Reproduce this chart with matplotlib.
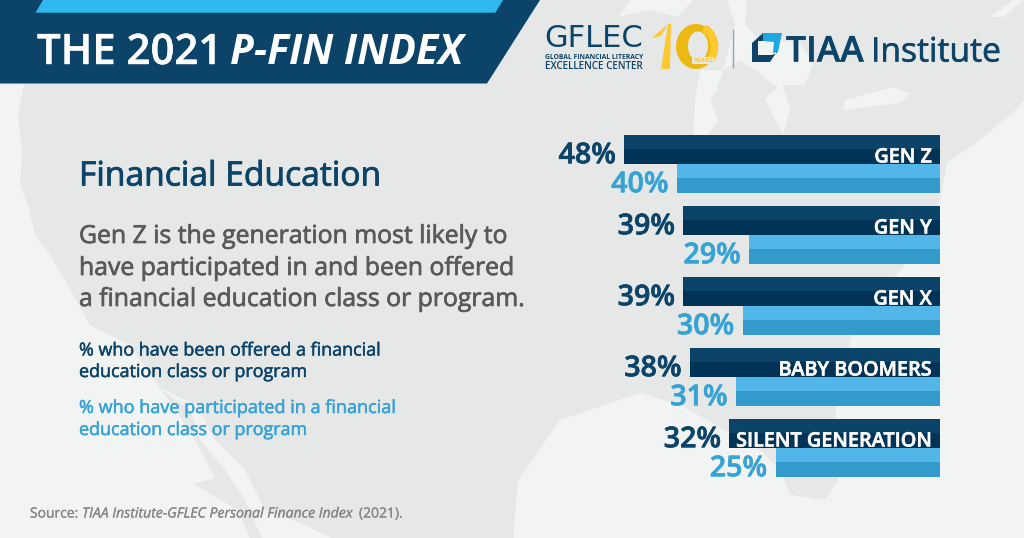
"""P-Fin Index 2021 infographic: financial education by generation."""

from __future__ import annotations

import matplotlib

matplotlib.use("Agg")

import matplotlib.patheffects as pe
import matplotlib.pyplot as plt
from matplotlib.patches import Arc, Ellipse, Polygon

GENERATIONS = ["GEN Z", "GEN Y", "GEN X", "BABY BOOMERS", "SILENT GENERATION"]
OFFERED = [48, 39, 39, 38, 32]
PARTICIPATED = [40, 29, 30, 31, 25]

NAVY = "#0b4468"
NAVY_DARK = "#013357"
SKY = "#52b6e8"
SKY_DARK = "#339bcb"
LABEL_SKY = "#36a3d6"
STRIP = "#2fb8ef"
LAND = "#e6e7e7"
SEA = "#f2f3f3"
GOLD = "#ecb914"
GOLD_LIGHT = "#fdc830"
GREY_TEXT = "#58595b"
SOURCE_TEXT = "#85878a"

W, H = 1024, 538
FONT = "Open Sans"

# rough outline of the map behind everything, in image pixels
MAINLAND = [
    (25, 80), (18, 115), (22, 150), (20, 185), (28, 205), (35, 235), (50, 255),
    (65, 280), (90, 325), (130, 345), (160, 388), (197, 405), (215, 440),
    (245, 470), (265, 510), (300, 523), (332, 538), (514, 538), (514, 526),
    (518, 480), (560, 420), (640, 393), (680, 405), (760, 450), (780, 470),
    (790, 495), (825, 500), (838, 480), (835, 390), (853, 333), (910, 257),
    (940, 200), (947, 163), (980, 140), (1024, 103), (1024, 0), (0, 0), (0, 80),
]
BAJA = [
    (160, 388), (190, 410), (200, 440), (225, 470), (245, 500), (262, 538),
    (250, 538), (238, 510), (193, 484), (215, 478), (195, 440), (172, 405),
]
LAKES = [
    [(630, 0), (618, 17), (650, 10), (677, 17), (693, 0)],
    [(693, 135), (708, 135), (718, 120), (710, 100), (717, 90), (723, 70),
     (700, 70), (695, 100)],
    [(727, 0), (747, 0), (745, 25), (757, 37), (800, 43), (813, 63), (805, 85),
     (783, 85), (790, 110), (783, 135), (770, 110), (765, 98), (778, 88),
     (755, 70), (740, 60), (723, 70), (735, 25)],
    [(845, 100), (893, 87), (910, 93), (900, 103), (867, 107), (843, 110)],
    [(990, 17), (1013, 0), (1024, 0), (1003, 17)],
    [(1007, 120), (1024, 100), (1024, 135), (1010, 130)],
]

HEADER = [(0, 0), (540, 0), (487, 83.5), (0, 83.5)]
HEADER_STRIP = [(43, 0), (35.5, 12.7), (495.5, 12.7), (503, 0)]
TIAA_DARK = [
    (752, 62), (752, 43), (763, 33), (768, 33), (765, 41), (758, 41), (758, 55),
    (772, 55), (777, 53), (778, 50), (770, 62),
]
TIAA_BLUE = [(763, 33), (782, 33), (778, 52), (773, 53), (774, 42), (763, 41)]
ONE_FLAG = [(652, 38), (668, 24), (661, 36)]
ONE_STEM = [(668, 24), (671, 24), (670, 69), (661, 69)]

# bar geometry, image pixels
BAR_RIGHT = 940
PX_PER_PCT = 6.58
BAR_TOP = 134.5
ROW_PITCH = 71
ROW_HEIGHT = 58
X_MAX = 50


def fatten(text, width, color):
    # the font only ships a few weights, thicken it a little
    text.set_path_effects([pe.withStroke(linewidth=width, foreground=color)])
    return text


def put(ax, x, y, s, size, color, weight="normal", style="normal", family=FONT, heavy=0.0):
    t = ax.text(x, y, s, fontsize=size, color=color, fontweight=weight,
                fontstyle=style, ha="left", va="baseline", family=family)
    return fatten(t, heavy, color) if heavy else t


def draw_backdrop(bg) -> None:
    bg.add_patch(Polygon(MAINLAND, fc=LAND, ec="none"))
    bg.add_patch(Polygon(BAJA, fc=LAND, ec="none"))
    for lake in LAKES:
        bg.add_patch(Polygon(lake, fc=SEA, ec="none"))


def draw_header(bg) -> None:
    bg.add_patch(Polygon(HEADER, fc=NAVY, ec="none"))
    bg.add_patch(Polygon(HEADER_STRIP, fc=STRIP, ec="none"))
    put(bg, 37, 64, "THE 2021", 30.2, "white", "semibold", heavy=0.3)
    put(bg, 230, 64, "P-FIN INDEX", 29.6, "white", "bold", "italic")


def draw_logos(bg) -> None:
    put(bg, 544, 46.7, "GFLEC", 22, NAVY, family="DejaVu Sans")
    put(bg, 545, 59, "GLOBAL FINANCIAL LITERACY", 4.9, NAVY, "bold")
    put(bg, 545, 69, "EXCELLENCE CENTER", 7.15, NAVY, "semibold")

    bg.add_patch(Polygon(ONE_FLAG, fc=GOLD_LIGHT, ec="none"))
    bg.add_patch(Polygon(ONE_STEM, fc=GOLD_LIGHT, ec="none"))
    bg.add_patch(Ellipse((696, 46.5), 40, 45, fc=GOLD, ec="none"))
    bg.add_patch(Ellipse((698, 46), 20, 29, fc=LAND, ec="none"))
    bg.add_patch(Arc((697.5, 46.5), 34, 40, theta1=-70, theta2=45, lw=5.5, color=GOLD_LIGHT))
    t = put(bg, 693, 62, "YEARS", 4.6, GOLD_LIGHT, "bold")
    t.set_bbox(dict(fc=LAND, ec="none", pad=0.6))

    bg.plot([733, 733], [30, 67], color="#8ea5b5", lw=1)
    bg.add_patch(Polygon(TIAA_DARK, fc=NAVY, ec="none"))
    bg.add_patch(Polygon(TIAA_BLUE, fc="#1ea7e1", ec="none"))
    put(bg, 786, 61.5, "TIAA", 25.5, NAVY, "semibold", heavy=0.3)
    put(bg, 871, 61.5, "Institute", 24.2, NAVY, heavy=0.4)


def draw_copy(bg) -> None:
    put(bg, 79, 185.5, "Financial Education", 24.2, NAVY, heavy=0.6)
    for y, line in zip(
        (243, 275, 306),
        (
            "Gen Z is the generation most likely to",
            "have participated in and been offered",
            "a financial education class or program.",
        ),
    ):
        put(bg, 79, y, line, 17.85, GREY_TEXT, heavy=0.5)

    put(bg, 79, 355.5, "% who have been offered a financial", 12.9, NAVY, heavy=0.35)
    put(bg, 79, 377, "education class or program", 12.9, NAVY, heavy=0.35)
    put(bg, 79, 413, "% who have participated in a financial", 13.0, LABEL_SKY, heavy=0.35)
    put(bg, 79, 435, "education class or program", 12.9, LABEL_SKY, heavy=0.35)

    put(bg, 30, 517.5, "Source:", 10, SOURCE_TEXT, heavy=0.2)
    put(bg, 82, 517.5, "TIAA Institute-GFLEC Personal Finance Index", 10.13, SOURCE_TEXT,
        style="italic", heavy=0.2)
    put(bg, 359, 517.5, "(2021).", 10, SOURCE_TEXT, heavy=0.2)


def draw_bars(fig) -> None:
    half = ROW_HEIGHT / ROW_PITCH / 2
    left = BAR_RIGHT - X_MAX * PX_PER_PCT
    n = len(GENERATIONS)
    height = n - 1 + 2 * half
    ax = fig.add_axes([
        left / W,
        1 - (BAR_TOP + height * ROW_PITCH) / H,
        X_MAX * PX_PER_PCT / W,
        height * ROW_PITCH / H,
    ])
    ax.set_xlim(X_MAX, 0)
    ax.set_ylim(n - 1 + half, -half)
    ax.axis("off")
    ax.patch.set_alpha(0)

    rows = range(n)
    q = half / 2
    for values, top_c, low_c, base, txt_c in (
        (OFFERED, NAVY, NAVY_DARK, -half, NAVY),
        (PARTICIPATED, SKY, SKY_DARK, 0, LABEL_SKY),
    ):
        ax.barh([i + base + q / 2 for i in rows], values, height=q, color=top_c, lw=0)
        ax.barh([i + base + 1.5 * q for i in rows], values, height=q, color=low_c, lw=0)
        for i, v in zip(rows, values):
            label = ax.annotate(f"{v}%", (v, i + base + half), xytext=(-6, 0.2),
                                textcoords="offset points", ha="right", va="baseline",
                                fontsize=20.6, fontweight="semibold", color=txt_c, family=FONT)
            fatten(label, 0.5, txt_c)

    for i, name in zip(rows, GENERATIONS):
        label = ax.annotate(name, (0, i), xytext=(-5.8, 0.7), textcoords="offset points",
                            ha="right", va="baseline", fontsize=14.3, fontweight="semibold",
                            color="white", family=FONT)
        fatten(label, 0.4, "white")


def main() -> None:
    fig = plt.figure(figsize=(W / 100, H / 100), dpi=100, facecolor=SEA)
    bg = fig.add_axes([0, 0, 1, 1])
    bg.set_xlim(0, W)
    bg.set_ylim(H, 0)
    bg.axis("off")

    draw_backdrop(bg)
    draw_header(bg)
    draw_logos(bg)
    draw_copy(bg)
    draw_bars(fig)

    fig.savefig("out.png", dpi=100, facecolor=SEA)
    plt.close(fig)


if __name__ == "__main__":
    main()
